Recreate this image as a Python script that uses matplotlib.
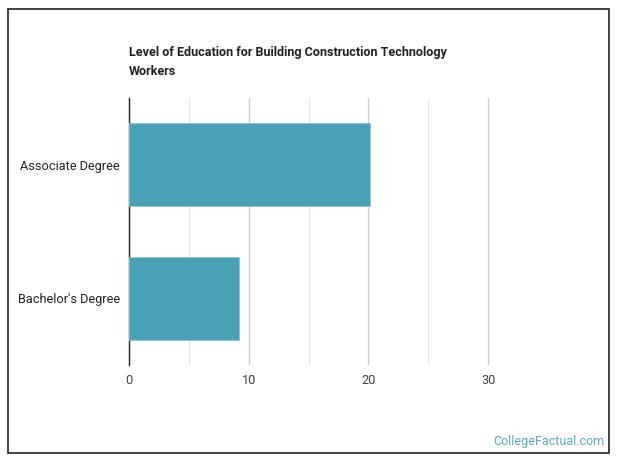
import matplotlib
matplotlib.use("Agg")
import matplotlib.pyplot as plt
from matplotlib.patches import Rectangle

plt.rcParams['font.family'] = ['Roboto', 'DejaVu Sans']

categories = ["Associate Degree", "Bachelor's Degree"]
values = [20.1, 9.2]
xticks = [0, 10, 20, 30]
title = "Level of Education for Building Construction Technology\nWorkers"

fig = plt.figure(figsize=(6.2, 4.65), dpi=100)
fig.patch.set_facecolor('white')
fig.add_artist(Rectangle((8/620, 1-453/465), (609-8)/620, (453-9)/465,
                         transform=fig.transFigure, fill=False,
                         edgecolor='#222222', linewidth=1.2))

ax = fig.add_axes([129/620, 1-365/465, 419/620, (365-98)/465])
ypos = list(range(len(categories)))
ax.barh(ypos, values, height=0.62, color='#4aa0b5', edgecolor='#8cc4d2', linewidth=0.6, zorder=3)
ax.set_yticks(ypos)
ax.set_yticklabels(categories)
ax.set_ylim(1.5, -0.5)
ax.set_xlim(0, 35)
ax.set_xticks(xticks)
ax.set_xticks([5, 15, 25], minor=True)
ax.grid(True, axis='x', which='major', color='#cccccc', linewidth=1, zorder=0)
ax.grid(True, axis='x', which='minor', color='#e8e8e8', linewidth=1, zorder=0)
for s in ['top', 'right', 'bottom']:
    ax.spines[s].set_visible(False)
ax.spines['left'].set_color('#222222')
ax.spines['left'].set_linewidth(1)
ax.tick_params(axis='both', which='both', length=0, labelsize=9.2, labelcolor='#444444')
ax.tick_params(axis='x', pad=6.5)
ax.tick_params(axis='y', pad=6.5)
for lbl in ax.get_yticklabels():
    lbl.set_color('#222222')

fig.text(129/620, 1-62/465, title, fontsize=9.1, fontweight='bold', color='#222222',
         va='center', ha='left', linespacing=1.55)
fig.text(604/620, 1-441/465, "CollegeFactual.com", fontsize=9, color='#5fa7bd',
         ha='right', va='center')

fig.savefig("out.png", dpi=100, facecolor='white')
